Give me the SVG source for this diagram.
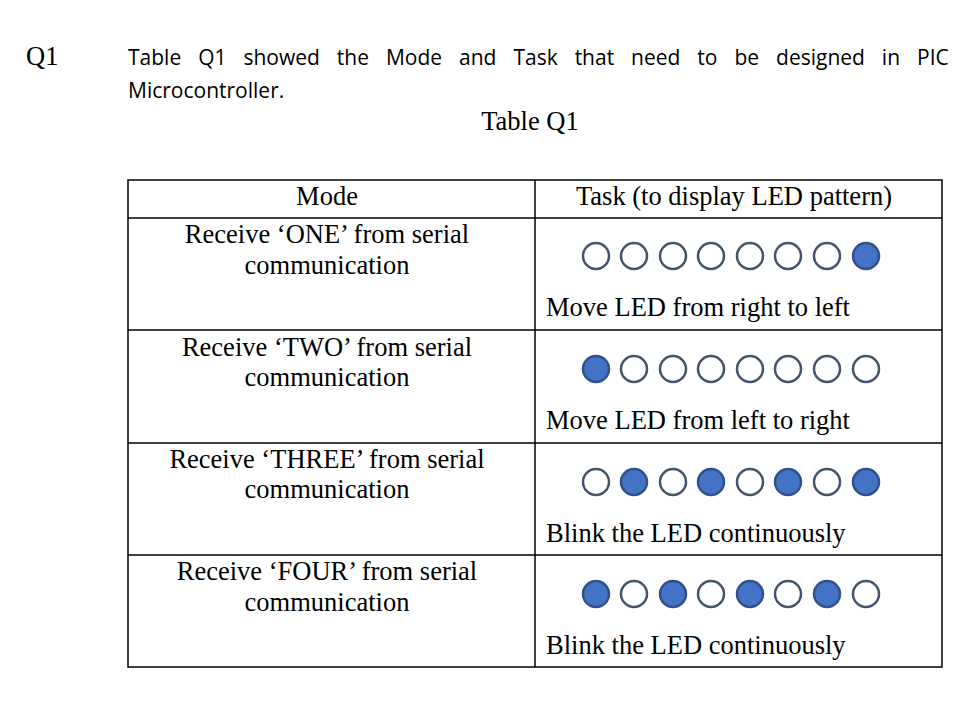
<svg xmlns="http://www.w3.org/2000/svg" width="977" height="710" viewBox="0 0 977 710">
<style>
.s{font-family:"Liberation Serif",serif;font-size:26.5px;fill:#000}
.c{font-family:"Open Sans","Noto Sans",sans-serif;font-size:21px;fill:#000}
.l{stroke:#000;stroke-width:1.5;fill:none}
.o{fill:#fff;stroke:#44546a;stroke-width:2.5}
.f{fill:#4472c4;stroke:#2f528f;stroke-width:2.5}
</style>
<rect width="977" height="710" fill="#fff"/>
<text class="s" x="26" y="65">Q1</text>
<text class="c" x="128" y="65" word-spacing="11.5">Table Q1 showed the Mode and Task that need to be designed in PIC</text>
<text class="c" x="128" y="98">Microcontroller.</text>
<text class="s" x="530" y="130" text-anchor="middle">Table Q1</text>
<g id="table">
<rect class="l" x="128" y="180" width="814" height="487"/>
<line class="l" x1="535" y1="180" x2="535" y2="667"/>
<line class="l" x1="128" y1="218" x2="942" y2="218"/>
<line class="l" x1="128" y1="330" x2="942" y2="330"/>
<line class="l" x1="128" y1="443" x2="942" y2="443"/>
<line class="l" x1="128" y1="555" x2="942" y2="555"/>
<text class="s" x="327" y="205" text-anchor="middle">Mode</text>
<text class="s" x="734" y="205" text-anchor="middle">Task (to display LED pattern)</text>
</g>
<g id="row1">
<text class="s" x="327" y="243" text-anchor="middle">Receive ‘ONE’ from serial</text>
<text class="s" x="327" y="274" text-anchor="middle">communication</text>
<circle class="o" cx="596" cy="256" r="13"/><circle class="o" cx="634" cy="256" r="13"/><circle class="o" cx="673" cy="256" r="13"/><circle class="o" cx="711" cy="256" r="13"/><circle class="o" cx="750" cy="256" r="13"/><circle class="o" cx="788" cy="256" r="13"/><circle class="o" cx="827" cy="256" r="13"/><circle class="f" cx="866" cy="256" r="13"/>
<text class="s" x="546" y="316">Move LED from right to left</text>
</g>
<g id="row2">
<text class="s" x="327" y="356" text-anchor="middle">Receive ‘TWO’ from serial</text>
<text class="s" x="327" y="386" text-anchor="middle">communication</text>
<circle class="f" cx="596" cy="369" r="13"/><circle class="o" cx="634" cy="369" r="13"/><circle class="o" cx="673" cy="369" r="13"/><circle class="o" cx="711" cy="369" r="13"/><circle class="o" cx="750" cy="369" r="13"/><circle class="o" cx="788" cy="369" r="13"/><circle class="o" cx="827" cy="369" r="13"/><circle class="o" cx="866" cy="369" r="13"/>
<text class="s" x="546" y="429">Move LED from left to right</text>
</g>
<g id="row3">
<text class="s" x="327" y="468" text-anchor="middle">Receive ‘THREE’ from serial</text>
<text class="s" x="327" y="498" text-anchor="middle">communication</text>
<circle class="o" cx="596" cy="482" r="13"/><circle class="f" cx="634" cy="482" r="13"/><circle class="o" cx="673" cy="482" r="13"/><circle class="f" cx="711" cy="482" r="13"/><circle class="o" cx="750" cy="482" r="13"/><circle class="f" cx="788" cy="482" r="13"/><circle class="o" cx="827" cy="482" r="13"/><circle class="f" cx="866" cy="482" r="13"/>
<text class="s" x="546" y="542">Blink the LED continuously</text>
</g>
<g id="row4">
<text class="s" x="327" y="580" text-anchor="middle">Receive ‘FOUR’ from serial</text>
<text class="s" x="327" y="611" text-anchor="middle">communication</text>
<circle class="f" cx="596" cy="594" r="13"/><circle class="o" cx="634" cy="594" r="13"/><circle class="f" cx="673" cy="594" r="13"/><circle class="o" cx="711" cy="594" r="13"/><circle class="f" cx="750" cy="594" r="13"/><circle class="o" cx="788" cy="594" r="13"/><circle class="f" cx="827" cy="594" r="13"/><circle class="o" cx="866" cy="594" r="13"/>
<text class="s" x="546" y="654">Blink the LED continuously</text>
</g>
</svg>
